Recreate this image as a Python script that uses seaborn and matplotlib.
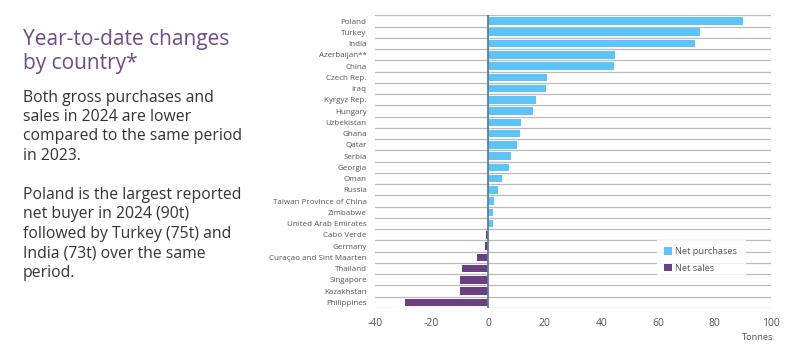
import pandas as pd
import numpy as np
import matplotlib.pyplot as plt
import seaborn as sns

# Net purchases (+) / net sales (-) by country, tonnes
countries = ['Poland', 'Turkey', 'India', 'Azerbaijan**', 'China', 'Czech Rep.', 'Iraq',
             'Kyrgyz Rep.', 'Hungary', 'Uzbekistan', 'Ghana', 'Qatar', 'Serbia', 'Georgia',
             'Oman', 'Russia', 'Taiwan Province of China', 'Zimbabwe', 'United Arab Emirates',
             'Cabo Verde', 'Germany', 'Curaçao and Sint Maarten', 'Thailand', 'Singapore',
             'Kazakhstan', 'Philippines']
tonnes = [90, 75, 73, 45, 44.5, 20.8, 20.5, 16.8, 15.9, 11.5, 11.4, 10.1, 8.2, 7.5,
          4.8, 3.4, 1.9, 1.6, 1.6, -0.8, -1.1, -3.8, -9.4, -9.9, -10.1, -29.3]
x_ticks = [-40, -20, 0, 20, 40, 60, 80, 100]

title = 'Year-to-date changes\nby country*'
body = ('Both gross purchases and\nsales in 2024 are lower\ncompared to the same period\nin 2023.\n\n'
        'Poland is the largest reported\nnet buyer in 2024 (90t)\nfollowed by Turkey (75t) and\n'
        'India (73t) over the same\nperiod.')

df = pd.DataFrame({'country': countries, 'tonnes': tonnes})
df['kind'] = np.where(df['tonnes'] >= 0, 'Net purchases', 'Net sales')

sns.set_theme(style='white')
plt.rcParams['font.family'] = ['Open Sans', 'DejaVu Sans']

blue = '#5EC4F7'
purple = '#6B3F82'

fig = plt.figure(figsize=(8.11, 3.51), dpi=100)
ax = fig.add_axes([0.4624, 0.1225, 0.4883, 0.8335])

sns.barplot(data=df, x='tonnes', y='country', hue='kind', dodge=False,
            palette={'Net purchases': blue, 'Net sales': purple}, saturation=1,
            width=0.68, linewidth=0, orient='h', ax=ax, zorder=3)

ax.set_xlim(-40, 100)
ax.set_ylim(len(countries) - 0.5, -0.5)
ax.set_xticks(x_ticks)
ax.set_xticklabels([str(t) for t in x_ticks], fontsize=7.5, color='#555555')
ax.tick_params(axis='y', labelsize=5.8, labelcolor='#555555', length=0, pad=6)
ax.tick_params(axis='x', length=0, pad=7)
ax.set_xlabel('')
ax.set_ylabel('')

# separator lines between categories
ax.set_yticks(np.arange(len(countries) + 1) - 0.5, minor=True)
ax.grid(which='minor', axis='y', color='#BBBBBB', linewidth=0.9, zorder=0)
ax.tick_params(which='minor', length=0)
ax.axvline(0, color='#5D7C94', linewidth=1.3, zorder=4)
for s in ax.spines.values():
    s.set_visible(False)

leg = ax.legend(loc='lower right', bbox_to_anchor=(0.945, 0.078), frameon=True,
                fontsize=6.7, handlelength=0.8, handleheight=0.8, handletextpad=0.4,
                labelspacing=0.85, borderpad=0.8, labelcolor='#555555')
leg.get_frame().set_facecolor('white')
leg.get_frame().set_edgecolor('white')
leg.get_frame().set_boxstyle('square', pad=0)
leg.set_zorder(5)

fig.text(0.934, 0.03, 'Tonnes', fontsize=6.7, color='#555555', ha='center', va='baseline')

fig.text(0.028, 0.918, title, fontsize=15, color='#6E4A8A', va='top', linespacing=1.22)
fig.text(0.028, 0.745, body, fontsize=11.3, color='#333333', va='top', linespacing=1.29)

fig.savefig('out.png', dpi=100)
